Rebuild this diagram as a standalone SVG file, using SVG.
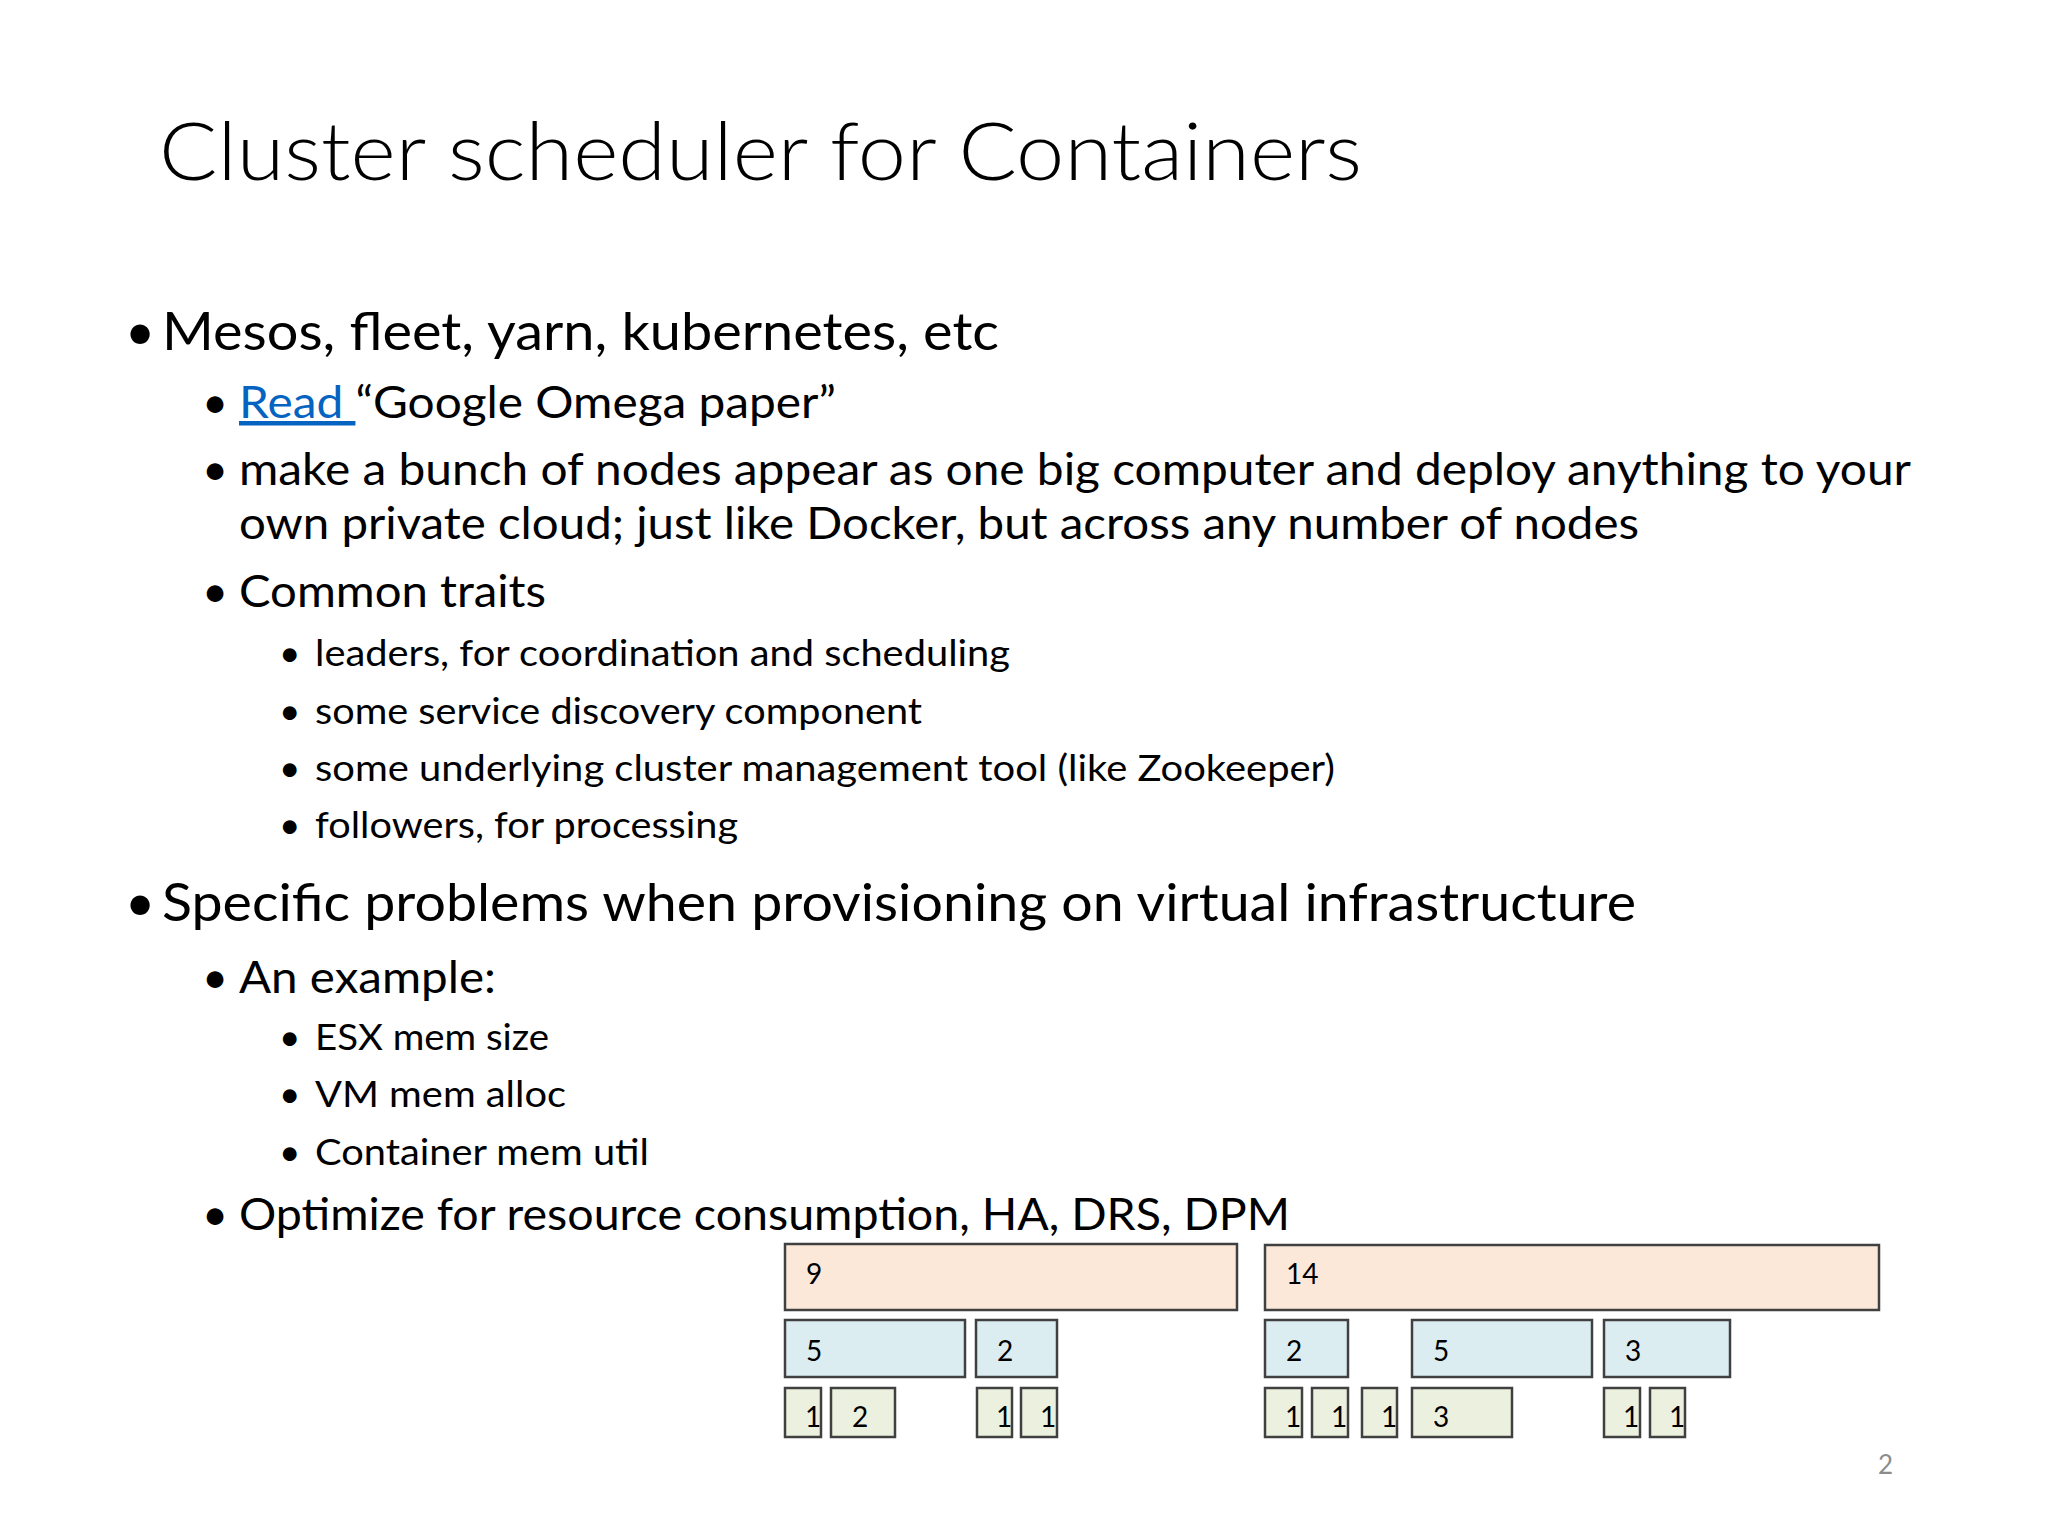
<svg xmlns="http://www.w3.org/2000/svg" width="2048" height="1536" viewBox="0 0 2048 1536">
<style>
text{font-family:Lato,"Open Sans","Liberation Sans",sans-serif;fill:#000}
.t{font-size:81px;font-weight:300}
.l1{font-size:52px}
.l2{font-size:45px}
.l3{font-size:37px}
.b{font-size:28px}
.o{fill:#fbe8d9;stroke:#404040;stroke-width:2.5}
.u{fill:#dcedf2;stroke:#404040;stroke-width:2.5}
.g{fill:#ebf1de;stroke:#404040;stroke-width:2.5}
</style>
<rect width="2048" height="1536" fill="#fff"/>
<g id="text">
<text class="t" x="159" y="180" textLength="1203" lengthAdjust="spacingAndGlyphs">Cluster scheduler for Containers</text>
<text class="l1" x="125" y="350">•</text>
<text class="l1" x="162" y="350" textLength="837" lengthAdjust="spacingAndGlyphs">Mesos, fleet, yarn, kubernetes, etc</text>
<text class="l2" x="202" y="418">•</text>
<text class="l2" x="239" y="418" textLength="597" lengthAdjust="spacingAndGlyphs"><tspan fill="#0563c1" text-decoration="underline">Read </tspan>“Google Omega paper”</text>
<text class="l2" x="202" y="485">•</text>
<text class="l2" x="239" y="485" textLength="1672" lengthAdjust="spacingAndGlyphs">make a bunch of nodes appear as one big computer and deploy anything to your</text>
<text class="l2" x="239" y="539" textLength="1400" lengthAdjust="spacingAndGlyphs">own private cloud; just like Docker, but across any number of nodes</text>
<text class="l2" x="202" y="607">•</text>
<text class="l2" x="239" y="607" textLength="307" lengthAdjust="spacingAndGlyphs">Common traits</text>
<text class="l3" x="279" y="666">•</text>
<text class="l3" x="315" y="666" textLength="695" lengthAdjust="spacingAndGlyphs">leaders, for coordination and scheduling</text>
<text class="l3" x="279" y="724">•</text>
<text class="l3" x="315" y="724" textLength="607" lengthAdjust="spacingAndGlyphs">some service discovery component</text>
<text class="l3" x="279" y="781">•</text>
<text class="l3" x="315" y="781" textLength="1020" lengthAdjust="spacingAndGlyphs">some underlying cluster management tool (like Zookeeper)</text>
<text class="l3" x="279" y="838">•</text>
<text class="l3" x="315" y="838" textLength="423" lengthAdjust="spacingAndGlyphs">followers, for processing</text>
<text class="l1" x="125" y="921">•</text>
<text class="l1" x="162" y="921" textLength="1474" lengthAdjust="spacingAndGlyphs">Specific problems when provisioning on virtual infrastructure</text>
<text class="l2" x="202" y="993">•</text>
<text class="l2" x="239" y="993" textLength="257" lengthAdjust="spacingAndGlyphs">An example:</text>
<text class="l3" x="279" y="1050">•</text>
<text class="l3" x="315" y="1050" textLength="234" lengthAdjust="spacingAndGlyphs">ESX mem size</text>
<text class="l3" x="279" y="1107">•</text>
<text class="l3" x="315" y="1107" textLength="251" lengthAdjust="spacingAndGlyphs">VM mem alloc</text>
<text class="l3" x="279" y="1165">•</text>
<text class="l3" x="315" y="1165" textLength="334" lengthAdjust="spacingAndGlyphs">Container mem util</text>
<text class="l2" x="202" y="1230">•</text>
<text class="l2" x="239" y="1230" textLength="1051" lengthAdjust="spacingAndGlyphs">Optimize for resource consumption, HA, DRS, DPM</text>
<text x="1878" y="1474" font-size="26" style="fill:#8c8c8c">2</text>
</g>
<g id="esx1"><rect class="o" x="785" y="1244" width="452" height="66"/><text class="b" x="806" y="1284">9</text></g>
<g id="esx2"><rect class="o" x="1265" y="1245" width="614" height="65"/><text class="b" x="1286" y="1284">14</text></g>
<g id="vm1"><rect class="u" x="785" y="1320" width="180" height="57"/><text class="b" x="806" y="1361">5</text></g>
<g id="vm2"><rect class="u" x="976" y="1320" width="81" height="57"/><text class="b" x="997" y="1361">2</text></g>
<g id="vm3"><rect class="u" x="1265" y="1320" width="83" height="57"/><text class="b" x="1286" y="1361">2</text></g>
<g id="vm4"><rect class="u" x="1412" y="1320" width="180" height="57"/><text class="b" x="1433" y="1361">5</text></g>
<g id="vm5"><rect class="u" x="1604" y="1320" width="126" height="57"/><text class="b" x="1625" y="1361">3</text></g>
<g id="c1"><rect class="g" x="785" y="1388" width="36" height="49"/><text class="b" x="805" y="1427">1</text></g>
<g id="c2"><rect class="g" x="831" y="1388" width="64" height="49"/><text class="b" x="852" y="1427">2</text></g>
<g id="c3"><rect class="g" x="977" y="1388" width="35" height="49"/><text class="b" x="996" y="1427">1</text></g>
<g id="c4"><rect class="g" x="1021" y="1388" width="36" height="49"/><text class="b" x="1040" y="1427">1</text></g>
<g id="c5"><rect class="g" x="1265" y="1388" width="37" height="49"/><text class="b" x="1285" y="1427">1</text></g>
<g id="c6"><rect class="g" x="1312" y="1388" width="36" height="49"/><text class="b" x="1331" y="1427">1</text></g>
<g id="c7"><rect class="g" x="1362" y="1388" width="35" height="49"/><text class="b" x="1381" y="1427">1</text></g>
<g id="c8"><rect class="g" x="1412" y="1388" width="100" height="49"/><text class="b" x="1433" y="1427">3</text></g>
<g id="c9"><rect class="g" x="1604" y="1388" width="36" height="49"/><text class="b" x="1623" y="1427">1</text></g>
<g id="c10"><rect class="g" x="1650" y="1388" width="35" height="49"/><text class="b" x="1669" y="1427">1</text></g>
<g id="connectors"/>
</svg>
